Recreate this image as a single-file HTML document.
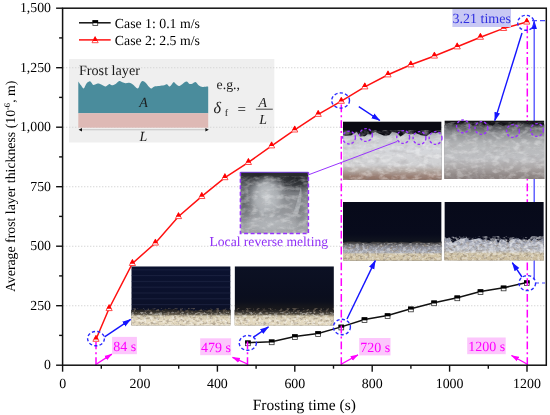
<!DOCTYPE html><html><head><meta charset="utf-8"><style>html,body{margin:0;padding:0;background:#fff;}svg{display:block;}text{font-family:"Liberation Serif","Times New Roman",serif;text-rendering:geometricPrecision;}</style></head><body>
<svg width="550" height="415" viewBox="0 0 550 415">
<defs>
<filter id="nzW" x="0" y="0" width="1" height="1"><feTurbulence type="fractalNoise" baseFrequency="0.32 0.45" numOctaves="2" seed="4"/><feColorMatrix type="matrix" values="0 0 0 0 1  0 0 0 0 1  0 0 0 0 1  5 0 0 0 -2.4"/><feGaussianBlur stdDeviation="0.45"/></filter>
<filter id="nzK" x="0" y="0" width="1" height="1"><feTurbulence type="fractalNoise" baseFrequency="0.3 0.4" numOctaves="2" seed="9"/><feColorMatrix type="matrix" values="0 0 0 0 0.25  0 0 0 0 0.2  0 0 0 0 0.15  5 0 0 0 -2.5"/><feGaussianBlur stdDeviation="0.45"/></filter>
<filter id="nzW3" x="0" y="0" width="1" height="1"><feTurbulence type="fractalNoise" baseFrequency="0.2 0.28" numOctaves="2" seed="17"/><feColorMatrix type="matrix" values="0 0 0 0 0.95  0 0 0 0 0.96  0 0 0 0 1  5 0 0 0 -2.3"/><feGaussianBlur stdDeviation="0.5"/></filter>
<filter id="nzW2" x="0" y="0" width="1" height="1"><feTurbulence type="fractalNoise" baseFrequency="0.14 0.22" numOctaves="3" seed="11"/><feColorMatrix type="matrix" values="0 0 0 0 1  0 0 0 0 1  0 0 0 0 1  3 0 0 0 -1.3"/><feGaussianBlur stdDeviation="0.4"/></filter>
<filter id="nzK2" x="0" y="0" width="1" height="1"><feTurbulence type="fractalNoise" baseFrequency="0.12 0.2" numOctaves="3" seed="21"/><feColorMatrix type="matrix" values="0 0 0 0 0.35  0 0 0 0 0.33  0 0 0 0 0.34  3 0 0 0 -1.5"/><feGaussianBlur stdDeviation="0.4"/></filter>
<pattern id="scan" y="2.5" width="4" height="5.8" patternUnits="userSpaceOnUse"><rect width="4" height="1" fill="#242c4a" opacity="0.55"/></pattern>
<clipPath id="cp1"><rect x="131.3" y="266.3" width="99.3" height="59.2"/></clipPath>
<linearGradient id="lg2" x1="0" y1="0" x2="0" y2="1"><stop offset="0" stop-color="#0b1230"/><stop offset="0.5" stop-color="#0b112c"/><stop offset="0.7" stop-color="#0c1128"/><stop offset="1" stop-color="#0c1128"/></linearGradient>
<linearGradient id="lg3" x1="0" y1="0" x2="0" y2="1"><stop offset="0" stop-color="#1e1c1c"/><stop offset="0.12" stop-color="#2e2b28"/><stop offset="0.24" stop-color="#4a453c"/><stop offset="0.3" stop-color="#6e6756"/><stop offset="0.36" stop-color="#cfc5ab"/><stop offset="0.6" stop-color="#e6dcc4"/><stop offset="1" stop-color="#d8ccb0"/></linearGradient>
<clipPath id="cp4"><rect x="234.6" y="266.3" width="99.3" height="59.2"/></clipPath>
<linearGradient id="lg5" x1="0" y1="0" x2="0" y2="1"><stop offset="0" stop-color="#0c1124"/><stop offset="0.5" stop-color="#0a0e1e"/><stop offset="0.6" stop-color="#0c0f1c"/><stop offset="0.7" stop-color="#18181c"/><stop offset="1" stop-color="#18181c"/></linearGradient>
<linearGradient id="lg6" x1="0" y1="0" x2="0" y2="1"><stop offset="0" stop-color="#1e1c1c"/><stop offset="0.12" stop-color="#2e2b28"/><stop offset="0.24" stop-color="#4a453c"/><stop offset="0.3" stop-color="#6e6756"/><stop offset="0.36" stop-color="#cfc5ab"/><stop offset="0.6" stop-color="#e6dcc4"/><stop offset="1" stop-color="#d8ccb0"/></linearGradient>
<clipPath id="cp7"><rect x="343" y="202" width="98.6" height="58.8"/></clipPath>
<linearGradient id="lg8" x1="0" y1="0" x2="0" y2="1"><stop offset="0" stop-color="#070a1a"/><stop offset="0.55" stop-color="#080b1c"/><stop offset="0.66" stop-color="#10141f"/><stop offset="1" stop-color="#10141f"/></linearGradient>
<linearGradient id="lg9" x1="0" y1="0" x2="0" y2="1"><stop offset="0" stop-color="#2e2c2c"/><stop offset="0.12" stop-color="#58585c"/><stop offset="0.25" stop-color="#888a94"/><stop offset="0.4" stop-color="#a2a6b2"/><stop offset="0.5" stop-color="#acaeb4"/><stop offset="0.56" stop-color="#d2c6aa"/><stop offset="1" stop-color="#cbbd9e"/></linearGradient>
<clipPath id="cp10"><rect x="444.4" y="202" width="99.4" height="58.4"/></clipPath>
<linearGradient id="lg11" x1="0" y1="0" x2="0" y2="1"><stop offset="0" stop-color="#070a1a"/><stop offset="0.55" stop-color="#080b1c"/><stop offset="1" stop-color="#0c1020"/></linearGradient>
<linearGradient id="lg12" x1="0" y1="0" x2="0" y2="1"><stop offset="0" stop-color="#7c8294"/><stop offset="0.2" stop-color="#a2a6b4"/><stop offset="0.5" stop-color="#b2b4ba"/><stop offset="0.62" stop-color="#d0c4a8"/><stop offset="1" stop-color="#c8b898"/></linearGradient>
<clipPath id="cp13"><rect x="343" y="121.4" width="98.6" height="58.3"/></clipPath>
<linearGradient id="lg14" x1="0" y1="0" x2="0" y2="1"><stop offset="0" stop-color="#0a0a12"/><stop offset="1" stop-color="#0a0a12"/></linearGradient>
<linearGradient id="lg15" x1="0" y1="0" x2="0" y2="1"><stop offset="0" stop-color="#9a9ea6"/><stop offset="0.1" stop-color="#c6c8ce"/><stop offset="0.35" stop-color="#d6d8dc"/><stop offset="0.65" stop-color="#d0d0d2"/><stop offset="0.76" stop-color="#b4aaa4"/><stop offset="0.88" stop-color="#987c70"/><stop offset="1" stop-color="#8a6c5e"/></linearGradient>
<clipPath id="cp16"><rect x="444.4" y="120.4" width="100" height="58.7"/></clipPath>
<linearGradient id="lg17" x1="0" y1="0" x2="0" y2="1"><stop offset="0" stop-color="#141418"/><stop offset="1" stop-color="#141418"/></linearGradient>
<linearGradient id="lg18" x1="0" y1="0" x2="0" y2="1"><stop offset="0" stop-color="#2e3034"/><stop offset="0.08" stop-color="#5c5e62"/><stop offset="0.2" stop-color="#909296"/><stop offset="0.35" stop-color="#b4b6b8"/><stop offset="0.6" stop-color="#bfc0c3"/><stop offset="0.75" stop-color="#aca8a8"/><stop offset="0.88" stop-color="#908886"/><stop offset="1" stop-color="#807674"/></linearGradient>
<linearGradient id="g4b" x1="0" y1="0" x2="0" y2="1"><stop offset="0" stop-color="#25272b"/><stop offset="0.1" stop-color="#3a3d42"/><stop offset="0.24" stop-color="#6c6f74"/><stop offset="0.5" stop-color="#8e9195"/><stop offset="1" stop-color="#a2a4a8"/></linearGradient>
<radialGradient id="g4h"><stop offset="0" stop-color="#c6cacd" stop-opacity="1"/><stop offset="0.6" stop-color="#b4b8bc" stop-opacity="0.8"/><stop offset="1" stop-color="#a0a4a8" stop-opacity="0"/></radialGradient>
<radialGradient id="g4d"><stop offset="0" stop-color="#1e2024" stop-opacity="0.95"/><stop offset="0.6" stop-color="#2a2c30" stop-opacity="0.6"/><stop offset="1" stop-color="#303236" stop-opacity="0"/></radialGradient>
<radialGradient id="g4g"><stop offset="0" stop-color="#5c6064" stop-opacity="0.9"/><stop offset="1" stop-color="#5c6064" stop-opacity="0"/></radialGradient>
<clipPath id="cpLRM"><rect x="240.4" y="172.3" width="68" height="61.3"/></clipPath>
<marker id="ab" viewBox="0 0 14 9" refX="13" refY="4.5" markerWidth="9" markerHeight="7" markerUnits="userSpaceOnUse" orient="auto"><path d="M0,0 L14,4.5 L0,9 z" fill="#1414ff"/></marker>
<marker id="am" viewBox="0 0 14 9" refX="13" refY="4.5" markerWidth="8" markerHeight="6.4" markerUnits="userSpaceOnUse" orient="auto"><path d="M0,0 L14,4.5 L0,9 z" fill="#ff00ff"/></marker>
</defs>
<line x1="63" y1="305.7" x2="546" y2="305.7" stroke="#d6d6d6" stroke-width="1.1" stroke-dasharray="1.4 1.6"/>
<line x1="63" y1="246.2" x2="546" y2="246.2" stroke="#d6d6d6" stroke-width="1.1" stroke-dasharray="1.4 1.6"/>
<line x1="63" y1="186.7" x2="546" y2="186.7" stroke="#d6d6d6" stroke-width="1.1" stroke-dasharray="1.4 1.6"/>
<line x1="63" y1="127.2" x2="546" y2="127.2" stroke="#d6d6d6" stroke-width="1.1" stroke-dasharray="1.4 1.6"/>
<line x1="63" y1="67.7" x2="546" y2="67.7" stroke="#d6d6d6" stroke-width="1.1" stroke-dasharray="1.4 1.6"/>
<rect x="69" y="59" width="205.3" height="83.5" fill="#efefef"/>
<line x1="69" y1="127.2" x2="274" y2="127.2" stroke="#d6d6d6" stroke-width="1.1" stroke-dasharray="1.4 1.6"/>
<line x1="69" y1="67.7" x2="274" y2="67.7" stroke="#d6d6d6" stroke-width="1.1" stroke-dasharray="1.4 1.6"/>
<path d="M78.3,81.4 C78.8,82.1 80.1,84.1 81.0,85.3 C81.9,86.5 82.8,88.7 83.7,88.4 C84.6,88.1 85.5,84.6 86.5,83.4 C87.5,82.2 89.0,81.3 89.8,81.2 C90.6,81.1 90.9,82.2 91.5,82.8 C92.1,83.4 92.4,84.8 93.3,84.9 C94.2,85.1 95.9,83.9 97.0,83.7 C98.1,83.5 99.1,83.7 100.0,84.0 C100.9,84.3 101.6,84.9 102.6,85.3 C103.5,85.7 104.6,86.7 105.7,86.5 C106.8,86.3 108.4,84.2 109.4,84.0 C110.4,83.8 110.8,85.3 111.8,85.3 C112.8,85.3 114.3,84.7 115.6,84.0 C116.8,83.3 118.2,81.3 119.3,81.0 C120.4,80.7 121.4,81.8 122.4,82.2 C123.4,82.6 124.3,83.1 125.4,83.2 C126.5,83.3 127.9,82.6 129.2,82.8 C130.4,83.0 131.5,83.5 132.9,84.4 C134.3,85.3 136.6,88.6 137.8,88.4 C139.0,88.2 139.5,84.6 140.3,83.4 C141.1,82.2 141.6,81.1 142.5,81.0 C143.4,80.9 144.8,82.0 145.7,82.8 C146.6,83.6 147.3,85.0 148.2,85.9 C149.1,86.8 150.3,88.3 151.3,88.4 C152.3,88.5 153.1,86.9 154.4,86.5 C155.7,86.1 157.7,86.1 159.3,85.9 C160.9,85.7 162.9,85.5 164.2,85.3 C165.5,85.0 166.4,84.2 167.3,84.4 C168.2,84.6 168.8,86.9 169.8,86.5 C170.8,86.1 172.6,82.7 173.5,82.2 C174.4,81.7 174.5,82.8 175.4,83.4 C176.3,84.0 177.9,85.9 179.1,85.9 C180.3,86.0 181.6,84.4 182.8,83.7 C184.0,83.0 185.4,81.5 186.5,81.6 C187.6,81.6 188.6,83.7 189.6,84.0 C190.6,84.3 191.7,83.7 192.7,83.4 C193.7,83.1 194.8,81.8 195.8,82.2 C196.8,82.6 197.8,84.8 198.9,85.6 C200.0,86.4 201.2,86.8 202.6,86.9 C204.0,87.1 206.6,86.5 207.5,86.5 C208.4,86.5 208.1,86.9 208.2,87.0 L208.2,113.3 L78.3,113.3 Z" fill="#4a8c9c"/>
<rect x="78.3" y="113.2" width="129.9" height="14.5" fill="#deb9b5"/>
<line x1="80" y1="129.8" x2="207" y2="129.8" stroke="#c4c4c4" stroke-width="1.1"/>
<path d="M78.6,129.8 l3.4,-1.7 v3.4 z M208.8,129.8 l-3.4,-1.7 v3.4 z" fill="#111"/>
<text transform="translate(78.90,75.00) scale(1.000,1.000)" font-size="14.2" fill="#1a1a1a" text-anchor="start" >Frost layer</text>
<text transform="translate(139.30,107.00) scale(1.000,1.000)" font-size="14" fill="#1a1a1a" text-anchor="start" font-style="italic">A</text>
<text transform="translate(139.60,141.40) scale(1.000,1.000)" font-size="14" fill="#1a1a1a" text-anchor="start" font-style="italic">L</text>
<text transform="translate(216.60,89.30) scale(1.000,1.000)" font-size="13.8" fill="#1a1a1a" text-anchor="start" >e.g.,</text>
<text transform="translate(213.60,113.00) scale(1.000,1.000)" font-size="16.2" fill="#1a1a1a" text-anchor="start" font-style="italic">δ</text>
<text transform="translate(224.80,116.30) scale(1.000,1.000)" font-size="10" fill="#1a1a1a" text-anchor="start" >f</text>
<text transform="translate(237.40,114.40) scale(1.000,1.000)" font-size="15" fill="#1a1a1a" text-anchor="start" >=</text>
<text transform="translate(258.40,107.20) scale(1.000,1.000)" font-size="13.8" fill="#1a1a1a" text-anchor="start" font-style="italic">A</text>
<line x1="255.9" y1="109.2" x2="272.8" y2="109.2" stroke="#333" stroke-width="0.9"/>
<text transform="translate(259.20,123.50) scale(1.000,1.000)" font-size="13.8" fill="#1a1a1a" text-anchor="start" font-style="italic">L</text>
<polyline points="247.9,342.7 271.7,341.7 294.9,336.5 318.1,333.4 341.3,326.9 364.5,319.5 387.6,315.5 410.9,308.8 434.1,302.7 457.3,297.7 480.5,291.5 503.6,287.8 526.8,282.6" fill="none" stroke="#111" stroke-width="1.5"/>
<polyline points="96.0,339.2 109.1,308.5 132.4,263.4 155.4,243.0 178.5,216.5 201.8,196.4 224.9,177.6 248.4,162.4 271.6,145.8 294.7,129.9 318.2,114.3 341.3,101.2 364.8,86.8 388.0,74.8 410.8,64.8 434.4,56.0 457.2,46.8 480.4,37.2 503.6,28.4 526.8,22.0" fill="none" stroke="#ff1010" stroke-width="1.5"/>
<rect x="245.5" y="340.9" width="4.8" height="4.8" fill="#fff" stroke="#333" stroke-width="0.8"/><rect x="245.1" y="340.5" width="5.6" height="3" fill="#000"/>
<rect x="269.3" y="339.9" width="4.8" height="4.8" fill="#fff" stroke="#333" stroke-width="0.8"/><rect x="268.9" y="339.5" width="5.6" height="3" fill="#000"/>
<rect x="292.5" y="334.7" width="4.8" height="4.8" fill="#fff" stroke="#333" stroke-width="0.8"/><rect x="292.1" y="334.3" width="5.6" height="3" fill="#000"/>
<rect x="315.7" y="331.6" width="4.8" height="4.8" fill="#fff" stroke="#333" stroke-width="0.8"/><rect x="315.3" y="331.2" width="5.6" height="3" fill="#000"/>
<rect x="338.9" y="325.1" width="4.8" height="4.8" fill="#fff" stroke="#333" stroke-width="0.8"/><rect x="338.5" y="324.7" width="5.6" height="3" fill="#000"/>
<rect x="362.1" y="317.7" width="4.8" height="4.8" fill="#fff" stroke="#333" stroke-width="0.8"/><rect x="361.7" y="317.3" width="5.6" height="3" fill="#000"/>
<rect x="385.2" y="313.7" width="4.8" height="4.8" fill="#fff" stroke="#333" stroke-width="0.8"/><rect x="384.8" y="313.3" width="5.6" height="3" fill="#000"/>
<rect x="408.5" y="307.0" width="4.8" height="4.8" fill="#fff" stroke="#333" stroke-width="0.8"/><rect x="408.1" y="306.6" width="5.6" height="3" fill="#000"/>
<rect x="431.7" y="300.9" width="4.8" height="4.8" fill="#fff" stroke="#333" stroke-width="0.8"/><rect x="431.3" y="300.5" width="5.6" height="3" fill="#000"/>
<rect x="454.9" y="295.9" width="4.8" height="4.8" fill="#fff" stroke="#333" stroke-width="0.8"/><rect x="454.5" y="295.5" width="5.6" height="3" fill="#000"/>
<rect x="478.1" y="289.7" width="4.8" height="4.8" fill="#fff" stroke="#333" stroke-width="0.8"/><rect x="477.7" y="289.3" width="5.6" height="3" fill="#000"/>
<rect x="501.2" y="286.0" width="4.8" height="4.8" fill="#fff" stroke="#333" stroke-width="0.8"/><rect x="500.8" y="285.6" width="5.6" height="3" fill="#000"/>
<rect x="524.4" y="280.8" width="4.8" height="4.8" fill="#fff" stroke="#333" stroke-width="0.8"/><rect x="524.0" y="280.4" width="5.6" height="3" fill="#000"/>
<path d="M92.9,341.3 L96.0,335.3 L99.1,341.3 Z" fill="#fff" stroke="#ff3a3a" stroke-width="0.9"/><path d="M93.4,339.5 L96.0,334.9 L98.6,339.5 Z" fill="#ff0000"/>
<path d="M106.0,310.6 L109.1,304.6 L112.2,310.6 Z" fill="#fff" stroke="#ff3a3a" stroke-width="0.9"/><path d="M106.5,308.8 L109.1,304.2 L111.7,308.8 Z" fill="#ff0000"/>
<path d="M129.3,265.5 L132.4,259.5 L135.5,265.5 Z" fill="#fff" stroke="#ff3a3a" stroke-width="0.9"/><path d="M129.8,263.7 L132.4,259.1 L135.0,263.7 Z" fill="#ff0000"/>
<path d="M152.3,245.1 L155.4,239.1 L158.5,245.1 Z" fill="#fff" stroke="#ff3a3a" stroke-width="0.9"/><path d="M152.8,243.3 L155.4,238.7 L158.0,243.3 Z" fill="#ff0000"/>
<path d="M175.4,218.6 L178.5,212.6 L181.6,218.6 Z" fill="#fff" stroke="#ff3a3a" stroke-width="0.9"/><path d="M175.9,216.8 L178.5,212.2 L181.1,216.8 Z" fill="#ff0000"/>
<path d="M198.7,198.5 L201.8,192.5 L204.9,198.5 Z" fill="#fff" stroke="#ff3a3a" stroke-width="0.9"/><path d="M199.2,196.7 L201.8,192.1 L204.4,196.7 Z" fill="#ff0000"/>
<path d="M221.8,179.7 L224.9,173.7 L228.0,179.7 Z" fill="#fff" stroke="#ff3a3a" stroke-width="0.9"/><path d="M222.3,177.9 L224.9,173.3 L227.5,177.9 Z" fill="#ff0000"/>
<path d="M245.3,164.5 L248.4,158.5 L251.5,164.5 Z" fill="#fff" stroke="#ff3a3a" stroke-width="0.9"/><path d="M245.8,162.7 L248.4,158.1 L251.0,162.7 Z" fill="#ff0000"/>
<path d="M268.5,147.9 L271.6,141.9 L274.7,147.9 Z" fill="#fff" stroke="#ff3a3a" stroke-width="0.9"/><path d="M269.0,146.1 L271.6,141.5 L274.2,146.1 Z" fill="#ff0000"/>
<path d="M291.6,132.0 L294.7,126.0 L297.8,132.0 Z" fill="#fff" stroke="#ff3a3a" stroke-width="0.9"/><path d="M292.1,130.2 L294.7,125.6 L297.3,130.2 Z" fill="#ff0000"/>
<path d="M315.1,116.4 L318.2,110.4 L321.3,116.4 Z" fill="#fff" stroke="#ff3a3a" stroke-width="0.9"/><path d="M315.6,114.6 L318.2,110.0 L320.8,114.6 Z" fill="#ff0000"/>
<path d="M338.2,103.3 L341.3,97.3 L344.4,103.3 Z" fill="#fff" stroke="#ff3a3a" stroke-width="0.9"/><path d="M338.7,101.5 L341.3,96.9 L343.9,101.5 Z" fill="#ff0000"/>
<path d="M361.7,88.9 L364.8,82.9 L367.9,88.9 Z" fill="#fff" stroke="#ff3a3a" stroke-width="0.9"/><path d="M362.2,87.1 L364.8,82.5 L367.4,87.1 Z" fill="#ff0000"/>
<path d="M384.9,76.9 L388.0,70.9 L391.1,76.9 Z" fill="#fff" stroke="#ff3a3a" stroke-width="0.9"/><path d="M385.4,75.1 L388.0,70.5 L390.6,75.1 Z" fill="#ff0000"/>
<path d="M407.7,66.9 L410.8,60.9 L413.9,66.9 Z" fill="#fff" stroke="#ff3a3a" stroke-width="0.9"/><path d="M408.2,65.1 L410.8,60.5 L413.4,65.1 Z" fill="#ff0000"/>
<path d="M431.3,58.1 L434.4,52.1 L437.5,58.1 Z" fill="#fff" stroke="#ff3a3a" stroke-width="0.9"/><path d="M431.8,56.3 L434.4,51.7 L437.0,56.3 Z" fill="#ff0000"/>
<path d="M454.1,48.9 L457.2,42.9 L460.3,48.9 Z" fill="#fff" stroke="#ff3a3a" stroke-width="0.9"/><path d="M454.6,47.1 L457.2,42.5 L459.8,47.1 Z" fill="#ff0000"/>
<path d="M477.3,39.3 L480.4,33.3 L483.5,39.3 Z" fill="#fff" stroke="#ff3a3a" stroke-width="0.9"/><path d="M477.8,37.5 L480.4,32.9 L483.0,37.5 Z" fill="#ff0000"/>
<path d="M500.5,30.5 L503.6,24.5 L506.7,30.5 Z" fill="#fff" stroke="#ff3a3a" stroke-width="0.9"/><path d="M501.0,28.7 L503.6,24.1 L506.2,28.7 Z" fill="#ff0000"/>
<path d="M523.7,24.1 L526.8,18.1 L529.9,24.1 Z" fill="#fff" stroke="#ff3a3a" stroke-width="0.9"/><path d="M524.2,22.3 L526.8,17.7 L529.4,22.3 Z" fill="#ff0000"/>
<line x1="96" y1="365" x2="96" y2="342" stroke="#ff00ff" stroke-width="1.5" stroke-dasharray="7.8 3 2 3"/>
<line x1="247.5" y1="365" x2="247.5" y2="341" stroke="#ff00ff" stroke-width="1.5" stroke-dasharray="7.8 3 2 3"/>
<line x1="341.3" y1="365" x2="341.3" y2="104" stroke="#ff00ff" stroke-width="1.5" stroke-dasharray="7.8 3 2 3"/>
<line x1="527.3" y1="365" x2="527.3" y2="24" stroke="#ff00ff" stroke-width="1.5" stroke-dasharray="7.8 3 2 3"/>
<line x1="534.2" y1="280" x2="534.2" y2="21" stroke="#4a4aff" stroke-width="1.3" marker-end="url(#ab)"/>
<line x1="532" y1="20.6" x2="546" y2="20.6" stroke="#4a4aff" stroke-width="1.2" stroke-dasharray="5 3"/>
<line x1="536" y1="283" x2="546" y2="283" stroke="#4a4aff" stroke-width="1.2" stroke-dasharray="3 3"/>
<g clip-path="url(#cp1)">
<rect x="131.3" y="266.3" width="99.3" height="59.2" fill="url(#lg2)"/>
<rect x="131.3" y="266.3" width="99.3" height="42" fill="url(#scan)"/>
<path d="M129.3,328.5 L129.3,309.1 L133.1,310.3 L135.5,309.8 L138.4,310.1 L142.1,309.0 L144.0,310.5 L146.8,310.3 L148.6,309.7 L152.2,309.3 L156.2,310.6 L158.1,308.9 L161.2,310.7 L163.9,309.2 L166.7,308.9 L169.1,309.7 L172.1,309.3 L174.4,309.2 L177.3,309.4 L179.2,310.5 L182.3,310.1 L184.5,310.8 L188.4,309.0 L191.0,310.2 L194.5,310.7 L197.3,310.5 L200.7,309.4 L203.9,310.6 L207.8,309.8 L211.0,308.9 L213.4,310.4 L216.2,309.1 L219.3,310.2 L222.7,309.5 L225.6,309.8 L229.2,309.8 L232.0,309.8 L232.6,308.9 L232.6,328.5 Z" fill="url(#lg3)" filter="url(#bl)"/>
<rect x="131.3" y="308" width="99.3" height="17.19999999999999" filter="url(#nzK)" opacity="0.5"/>
<rect x="131.3" y="312.5" width="99.3" height="13.100000000000023" filter="url(#nzW)" opacity="0.4"/>
</g>
<g clip-path="url(#cp4)">
<rect x="234.6" y="266.3" width="99.3" height="59.2" fill="url(#lg5)"/>
<rect x="234.6" y="266.3" width="99.3" height="42" fill="url(#scan2)"/>
<path d="M232.6,328.5 L232.6,310.7 L236.7,308.9 L238.7,310.5 L242.2,310.1 L244.8,310.0 L248.0,310.0 L250.2,309.7 L253.0,310.2 L257.2,310.7 L260.3,309.7 L262.7,308.9 L264.6,309.7 L267.1,309.6 L271.1,309.9 L274.2,309.3 L276.1,309.5 L278.2,309.8 L282.4,310.1 L284.6,310.6 L288.3,310.3 L292.3,310.3 L296.0,309.5 L300.2,310.7 L302.4,310.3 L305.9,309.7 L309.0,309.8 L313.0,309.8 L316.8,309.5 L320.7,310.6 L323.6,309.9 L327.6,310.2 L330.6,309.2 L333.1,310.2 L335.3,310.6 L335.9,310.6 L335.9,328.5 Z" fill="url(#lg6)" filter="url(#bl)"/>
<rect x="234.6" y="308" width="99.3" height="17.19999999999999" filter="url(#nzK)" opacity="0.5"/>
<rect x="234.6" y="312.5" width="99.3" height="13.100000000000023" filter="url(#nzW)" opacity="0.4"/>
</g>
<g clip-path="url(#cp7)">
<rect x="343" y="202" width="98.6" height="58.8" fill="url(#lg8)"/>
<rect x="343" y="202" width="98.6" height="38" fill="url(#scan2)"/>
<path d="M341.0,263.8 L341.0,241.9 L343.2,242.4 L345.1,242.3 L347.8,241.5 L350.8,241.5 L353.7,241.5 L355.7,242.1 L359.5,241.6 L361.8,242.4 L365.9,242.3 L368.6,243.0 L370.5,242.8 L373.0,241.6 L375.1,241.9 L378.9,241.7 L382.1,242.4 L384.8,242.3 L386.7,241.5 L389.0,242.5 L391.8,241.9 L395.1,242.1 L397.6,242.7 L401.0,241.8 L404.2,242.2 L408.1,242.6 L410.6,243.0 L412.7,242.1 L416.3,241.6 L419.3,241.5 L422.7,242.6 L425.9,242.8 L428.4,242.5 L431.7,242.3 L434.5,242.7 L438.6,242.2 L442.0,241.5 L443.6,242.4 L443.6,263.8 Z" fill="url(#lg9)" filter="url(#bl)"/>
<rect x="343" y="244" width="98.6" height="17" filter="url(#nzK)" opacity="0.55"/>
<rect x="343" y="243" width="98.6" height="18" filter="url(#nzW)" opacity="0.35"/>
</g>
<g clip-path="url(#cp10)">
<rect x="444.4" y="202" width="99.4" height="58.4" fill="url(#lg11)"/>
<rect x="444.4" y="202" width="99.4" height="36" fill="url(#scan2)"/>
<path d="M442.4,263.4 L442.4,239.0 L446.5,238.4 L450.0,238.2 L452.4,243.3 L454.7,241.3 L457.6,240.2 L460.6,238.8 L464.4,238.2 L466.7,237.8 L469.2,240.0 L473.1,239.8 L475.2,239.1 L479.4,238.1 L482.7,239.8 L486.1,239.6 L489.5,240.5 L492.9,242.7 L496.1,238.5 L498.0,243.0 L501.0,238.8 L505.1,240.9 L508.6,242.6 L511.1,239.7 L515.0,238.5 L518.7,238.2 L522.1,241.6 L526.2,242.4 L529.2,238.8 L531.4,240.7 L534.4,238.1 L538.4,240.5 L541.8,238.9 L544.2,237.8 L545.8,239.2 L545.8,263.4 Z" fill="url(#lg12)" filter="url(#bl)"/>
<rect x="444.4" y="240" width="99.4" height="21" filter="url(#nzK)" opacity="0.5"/>
<rect x="444.4" y="236" width="99.4" height="17" filter="url(#nzW3)" opacity="0.45"/>
<rect x="444.4" y="237" width="99.4" height="24" filter="url(#nzW)" opacity="0.35"/>
</g>
<g clip-path="url(#cp13)">
<rect x="343" y="121.4" width="98.6" height="58.3" fill="url(#lg14)"/>
<path d="M341.0,182.7 L341.0,134.9 L345.8,135.7 L351.2,135.5 L356.5,132.0 L360.4,136.4 L364.9,136.2 L367.7,134.2 L370.9,134.5 L375.1,132.0 L378.2,133.2 L383.5,135.6 L386.4,135.7 L389.3,134.9 L392.1,131.9 L397.3,132.9 L400.4,136.6 L405.6,133.3 L411.0,134.5 L415.6,132.9 L421.0,135.2 L426.5,136.2 L429.9,133.6 L432.8,132.6 L435.4,133.3 L439.7,131.9 L443.6,133.5 L443.6,182.7 Z" fill="url(#lg15)" filter="url(#bl)"/>
<rect x="343" y="130" width="98.6" height="50" filter="url(#nzW2)" opacity="0.35"/>
<rect x="343" y="130" width="98.6" height="50" filter="url(#nzK2)" opacity="0.3"/>
</g>
<g clip-path="url(#cp16)">
<rect x="444.4" y="120.4" width="100" height="58.7" fill="url(#lg17)"/>
<path d="M442.4,182.1 L442.4,125.6 L446.2,124.4 L448.6,122.7 L452.0,124.4 L455.6,124.0 L459.3,123.7 L463.0,125.3 L465.8,124.6 L469.2,123.4 L472.3,125.6 L474.8,125.6 L478.2,125.7 L480.8,123.0 L484.6,125.6 L487.4,123.0 L489.7,125.0 L492.2,126.1 L495.4,123.4 L498.8,124.0 L502.8,126.0 L505.9,125.0 L509.3,125.6 L513.5,122.8 L516.1,124.9 L518.7,124.8 L520.7,125.9 L523.7,123.1 L527.1,123.8 L529.4,124.4 L531.5,123.5 L535.4,125.2 L537.2,125.5 L539.1,123.9 L543.1,124.9 L545.6,124.1 L546.4,123.2 L546.4,182.1 Z" fill="url(#lg18)" filter="url(#bl)"/>
<rect x="444.4" y="122" width="100" height="58" filter="url(#nzW2)" opacity="0.3"/>
<rect x="444.4" y="122" width="100" height="58" filter="url(#nzK2)" opacity="0.3"/>
</g>
<g clip-path="url(#cpLRM)">
<rect x="240.4" y="172.3" width="68" height="61.3" fill="url(#g4b)"/>
<ellipse cx="296" cy="179" rx="20" ry="14" fill="url(#g4d)"/>
<ellipse cx="258" cy="175" rx="22" ry="6" fill="url(#g4d)" opacity="0.7"/>
<ellipse cx="244" cy="202" rx="11" ry="26" fill="url(#g4g)"/>
<ellipse cx="300" cy="212" rx="7" ry="18" fill="url(#g4g)" opacity="0.5"/>
<ellipse cx="267" cy="197" rx="19" ry="23" fill="url(#g4h)"/>
<ellipse cx="266" cy="193" rx="10" ry="12" fill="url(#g4h)" opacity="0.7"/>
<ellipse cx="272" cy="224" rx="34" ry="12" fill="url(#g4h)" opacity="0.6"/>
<path d="M293,214 Q299,196 301,186 Q303,200 298,214 Z" fill="#b8bcc0" opacity="0.55" filter="url(#bl)"/>
<rect x="240.4" y="176" width="68" height="58" filter="url(#nzW2)" opacity="0.3"/>
<rect x="240.4" y="176" width="68" height="58" filter="url(#nzK2)" opacity="0.22"/>
</g>
<path d="M240.4,172.3 V233.6 H308.4 V172.3" fill="none" stroke="#9933ff" stroke-width="1.5" stroke-dasharray="4 2.5"/>
<line x1="240.4" y1="172.3" x2="308.4" y2="172.3" stroke="#6633cc" stroke-width="1"/>
<text transform="translate(209.50,246.00) scale(1.000,1.000)" font-size="13.6" fill="#9030f5" text-anchor="start" >Local reverse melting</text>
<line x1="308.5" y1="174.8" x2="397" y2="141.5" stroke="#9933ff" stroke-width="1"/>
<circle cx="349" cy="137.6" r="6.4" fill="none" stroke="#9933ff" stroke-width="1.4" stroke-dasharray="2.6 2"/>
<circle cx="366" cy="135" r="6.4" fill="none" stroke="#9933ff" stroke-width="1.4" stroke-dasharray="2.6 2"/>
<circle cx="403.2" cy="137" r="6.4" fill="none" stroke="#9933ff" stroke-width="1.4" stroke-dasharray="2.6 2"/>
<circle cx="419.5" cy="138" r="6.4" fill="none" stroke="#9933ff" stroke-width="1.4" stroke-dasharray="2.6 2"/>
<circle cx="435.6" cy="138" r="6.4" fill="none" stroke="#9933ff" stroke-width="1.4" stroke-dasharray="2.6 2"/>
<circle cx="463" cy="126.4" r="6.4" fill="none" stroke="#9933ff" stroke-width="1.4" stroke-dasharray="2.6 2"/>
<circle cx="481.4" cy="128" r="6.4" fill="none" stroke="#9933ff" stroke-width="1.4" stroke-dasharray="2.6 2"/>
<circle cx="513" cy="131" r="6.4" fill="none" stroke="#9933ff" stroke-width="1.4" stroke-dasharray="2.6 2"/>
<circle cx="537" cy="130" r="6.4" fill="none" stroke="#9933ff" stroke-width="1.4" stroke-dasharray="2.6 2"/>
<ellipse cx="96" cy="338.6" rx="8.4" ry="7.2" fill="none" stroke="#2a2aff" stroke-width="1.4" stroke-dasharray="3.2 2.2"/>
<ellipse cx="247.8" cy="342.9" rx="8.6" ry="7.4" fill="none" stroke="#2a2aff" stroke-width="1.4" stroke-dasharray="3.2 2.2"/>
<ellipse cx="341.9" cy="327" rx="8.5" ry="7.7" fill="none" stroke="#2a2aff" stroke-width="1.4" stroke-dasharray="3.2 2.2"/>
<ellipse cx="527.3" cy="283.1" rx="8.3" ry="7.5" fill="none" stroke="#2a2aff" stroke-width="1.4" stroke-dasharray="3.2 2.2"/>
<ellipse cx="340.6" cy="100.5" rx="8.9" ry="7.6" fill="none" stroke="#2a2aff" stroke-width="1.4" stroke-dasharray="3.2 2.2"/>
<ellipse cx="525.9" cy="22.8" rx="8.2" ry="7.5" fill="none" stroke="#2a2aff" stroke-width="1.4" stroke-dasharray="3.2 2.2"/>
<line x1="104.6" y1="336.8" x2="130.7" y2="319.4" stroke="#1414ff" stroke-width="1.4" marker-end="url(#ab)"/>
<line x1="253.4" y1="337.2" x2="268.5" y2="326.9" stroke="#1414ff" stroke-width="1.4" marker-end="url(#ab)"/>
<line x1="347" y1="319" x2="375.3" y2="260.6" stroke="#1414ff" stroke-width="1.4" marker-end="url(#ab)"/>
<line x1="522" y1="277" x2="512.3" y2="262.7" stroke="#1414ff" stroke-width="1.4" marker-end="url(#ab)"/>
<line x1="358.8" y1="106.6" x2="379.8" y2="120.5" stroke="#1414ff" stroke-width="1.4" marker-end="url(#ab)"/>
<line x1="522" y1="33" x2="494.8" y2="120.6" stroke="#1414ff" stroke-width="1.4" marker-end="url(#ab)"/>
<line x1="96.5" y1="364" x2="111.9" y2="354.1" stroke="#ff00ff" stroke-width="1.3" marker-end="url(#am)"/>
<line x1="247.5" y1="364" x2="232.5" y2="357.3" stroke="#ff00ff" stroke-width="1.3" marker-end="url(#am)"/>
<line x1="341.5" y1="364" x2="358" y2="354.9" stroke="#ff00ff" stroke-width="1.3" marker-end="url(#am)"/>
<line x1="527" y1="364" x2="511.5" y2="355.5" stroke="#ff00ff" stroke-width="1.3" marker-end="url(#am)"/>
<rect x="112.1" y="336.9" width="24.8" height="17.3" fill="#fcc6fc"/>
<text transform="translate(124.80,351.20) scale(1.000,1.000)" font-size="14" fill="#ff00ff" text-anchor="middle" >84 s</text>
<rect x="200.2" y="338.3" width="30.9" height="16.9" fill="#fcc6fc"/>
<text transform="translate(215.95,352.20) scale(1.000,1.000)" font-size="14" fill="#ff00ff" text-anchor="middle" >479 s</text>
<rect x="359.2" y="338" width="31.3" height="17.4" fill="#fcc6fc"/>
<text transform="translate(375.15,352.40) scale(1.000,1.000)" font-size="14" fill="#ff00ff" text-anchor="middle" >720 s</text>
<rect x="467.2" y="337.5" width="38.5" height="16.7" fill="#fcc6fc"/>
<text transform="translate(486.75,351.20) scale(1.000,1.000)" font-size="14" fill="#ff00ff" text-anchor="middle" >1200 s</text>
<rect x="452.4" y="9" width="58.6" height="18" fill="#c8c8f4"/>
<text transform="translate(481.70,23.30) scale(1.000,1.000)" font-size="14" fill="#3030e0" text-anchor="middle" >3.21 times</text>
<rect x="62.6" y="8.2" width="483.7" height="357" fill="none" stroke="#111" stroke-width="1.5"/>
<line x1="62.6" y1="365.2" x2="62.6" y2="371.7" stroke="#111" stroke-width="1.4"/>
<text transform="translate(62.60,387.70) scale(1.000,1.000)" font-size="13.9" fill="#000" text-anchor="middle" >0</text>
<line x1="101.3" y1="365.2" x2="101.3" y2="368.7" stroke="#111" stroke-width="1.4"/>
<line x1="140.0" y1="365.2" x2="140.0" y2="371.7" stroke="#111" stroke-width="1.4"/>
<text transform="translate(140.00,387.70) scale(1.000,1.000)" font-size="13.9" fill="#000" text-anchor="middle" >200</text>
<line x1="178.7" y1="365.2" x2="178.7" y2="368.7" stroke="#111" stroke-width="1.4"/>
<line x1="217.4" y1="365.2" x2="217.4" y2="371.7" stroke="#111" stroke-width="1.4"/>
<text transform="translate(217.40,387.70) scale(1.000,1.000)" font-size="13.9" fill="#000" text-anchor="middle" >400</text>
<line x1="256.1" y1="365.2" x2="256.1" y2="368.7" stroke="#111" stroke-width="1.4"/>
<line x1="294.8" y1="365.2" x2="294.8" y2="371.7" stroke="#111" stroke-width="1.4"/>
<text transform="translate(294.80,387.70) scale(1.000,1.000)" font-size="13.9" fill="#000" text-anchor="middle" >600</text>
<line x1="333.5" y1="365.2" x2="333.5" y2="368.7" stroke="#111" stroke-width="1.4"/>
<line x1="372.2" y1="365.2" x2="372.2" y2="371.7" stroke="#111" stroke-width="1.4"/>
<text transform="translate(372.20,387.70) scale(1.000,1.000)" font-size="13.9" fill="#000" text-anchor="middle" >800</text>
<line x1="410.9" y1="365.2" x2="410.9" y2="368.7" stroke="#111" stroke-width="1.4"/>
<line x1="449.6" y1="365.2" x2="449.6" y2="371.7" stroke="#111" stroke-width="1.4"/>
<text transform="translate(449.60,387.70) scale(1.000,1.000)" font-size="13.9" fill="#000" text-anchor="middle" >1000</text>
<line x1="488.3" y1="365.2" x2="488.3" y2="368.7" stroke="#111" stroke-width="1.4"/>
<line x1="527.0" y1="365.2" x2="527.0" y2="371.7" stroke="#111" stroke-width="1.4"/>
<text transform="translate(527.00,387.70) scale(1.000,1.000)" font-size="13.9" fill="#000" text-anchor="middle" >1200</text>
<line x1="56.1" y1="365.2" x2="62.6" y2="365.2" stroke="#111" stroke-width="1.4"/>
<text transform="translate(51.00,369.30) scale(1.000,1.000)" font-size="13.8" fill="#000" text-anchor="end" >0</text>
<line x1="59.1" y1="335.4" x2="62.6" y2="335.4" stroke="#111" stroke-width="1.4"/>
<line x1="56.1" y1="305.7" x2="62.6" y2="305.7" stroke="#111" stroke-width="1.4"/>
<text transform="translate(51.00,309.80) scale(1.000,1.000)" font-size="13.8" fill="#000" text-anchor="end" >250</text>
<line x1="59.1" y1="275.9" x2="62.6" y2="275.9" stroke="#111" stroke-width="1.4"/>
<line x1="56.1" y1="246.2" x2="62.6" y2="246.2" stroke="#111" stroke-width="1.4"/>
<text transform="translate(51.00,250.30) scale(1.000,1.000)" font-size="13.8" fill="#000" text-anchor="end" >500</text>
<line x1="59.1" y1="216.4" x2="62.6" y2="216.4" stroke="#111" stroke-width="1.4"/>
<line x1="56.1" y1="186.7" x2="62.6" y2="186.7" stroke="#111" stroke-width="1.4"/>
<text transform="translate(51.00,190.80) scale(1.000,1.000)" font-size="13.8" fill="#000" text-anchor="end" >750</text>
<line x1="59.1" y1="156.9" x2="62.6" y2="156.9" stroke="#111" stroke-width="1.4"/>
<line x1="56.1" y1="127.2" x2="62.6" y2="127.2" stroke="#111" stroke-width="1.4"/>
<text transform="translate(51.00,131.30) scale(1.000,1.000)" font-size="13.8" fill="#000" text-anchor="end" >1,000</text>
<line x1="59.1" y1="97.4" x2="62.6" y2="97.4" stroke="#111" stroke-width="1.4"/>
<line x1="56.1" y1="67.7" x2="62.6" y2="67.7" stroke="#111" stroke-width="1.4"/>
<text transform="translate(51.00,71.80) scale(1.000,1.000)" font-size="13.8" fill="#000" text-anchor="end" >1,250</text>
<line x1="59.1" y1="37.9" x2="62.6" y2="37.9" stroke="#111" stroke-width="1.4"/>
<line x1="56.1" y1="8.2" x2="62.6" y2="8.2" stroke="#111" stroke-width="1.4"/>
<text transform="translate(51.00,12.30) scale(1.000,1.000)" font-size="13.8" fill="#000" text-anchor="end" >1,500</text>
<text transform="translate(304.30,409.50) scale(1.000,1.000)" font-size="15.5" fill="#000" text-anchor="middle" >Frosting time (s)</text>
<text transform="translate(14.7,186.35) rotate(-90)" font-size="13.8" fill="#000" text-anchor="middle">Average frost layer thickness (10<tspan dy="-5" font-size="8.5">-6</tspan><tspan dy="5">, m)</tspan></text>
<line x1="79" y1="22.8" x2="110.7" y2="22.8" stroke="#111" stroke-width="1.5"/>
<rect x="92.9" y="20.6" width="4.8" height="4.8" fill="#fff" stroke="#333" stroke-width="0.8"/><rect x="92.5" y="20.2" width="5.6" height="3" fill="#000"/>
<line x1="79" y1="39.9" x2="110.7" y2="39.9" stroke="#ff1010" stroke-width="1.5"/>
<path d="M92.0,42.7 L95.1,36.7 L98.2,42.7 Z" fill="#fff" stroke="#ff3a3a" stroke-width="0.9"/><path d="M92.5,40.9 L95.1,36.3 L97.7,40.9 Z" fill="#ff0000"/>
<text transform="translate(114.80,28.00) scale(1.000,1.000)" font-size="13.8" fill="#000" text-anchor="start" >Case 1: 0.1 m/s</text>
<text transform="translate(114.80,45.00) scale(1.000,1.000)" font-size="13.8" fill="#000" text-anchor="start" >Case 2: 2.5 m/s</text>
</svg></body></html>
